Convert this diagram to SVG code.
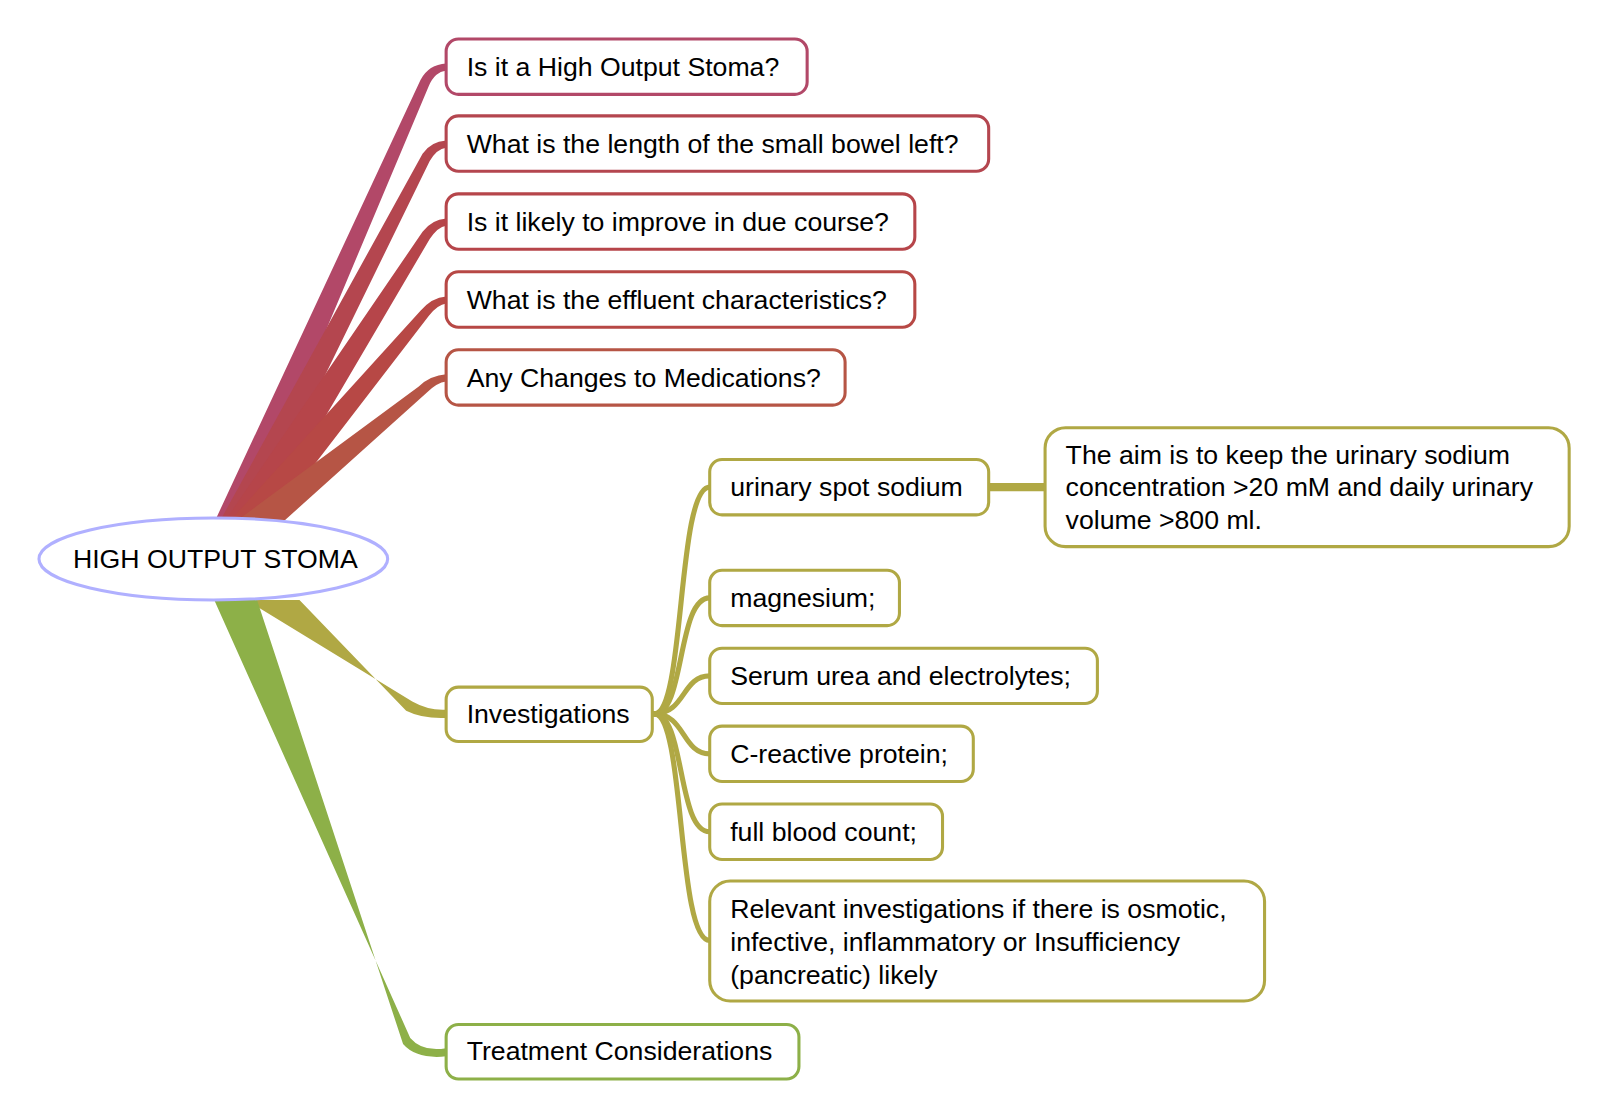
<svg xmlns="http://www.w3.org/2000/svg" width="1600" height="1112" viewBox="0 0 1600 1112">
<style>
text{font-family:"Liberation Sans",Arial,sans-serif;font-size:26px;fill:#000}
.b{fill:#fff;stroke-width:3}
.inv{fill:none;stroke:#b0a844;stroke-width:5;stroke-linecap:round}
</style>
<rect width="1600" height="1112" fill="#fff"/>
<g transform="scale(1.0256)">
<g id="connectors">
<path d="M210,507 L410,78 Q418,63 435,62 L435,69 Q424,70 418,84 L240,507 Z" fill="#b24868"/>
<path d="M215,507 L412,150 Q420,138 435,137 L435,144 Q426,145 419,157 L248,507 Z" fill="#b4464f"/>
<path d="M220,507 L412,226 Q421,214 435,213 L435,220 Q427,221 419,233 L258,507 Z" fill="#b6454a"/>
<path d="M225,507 L410,303 Q421,290 435,289 L435,296 Q427,297 418,308 L265,507 Z" fill="#b74845"/>
<path d="M232,507 L408,377 Q420,366 435,365 L435,372 Q426,373 416,383 L278,507 Z" fill="#b65545"/>
<path d="M240,585 L402,684 Q418,693 435,692 L435,700 Q412,701 396,693 L292,585 Z" fill="#b0a844"/>
<path d="M208,583 L400,1012 Q412,1026 435,1022 L435,1030 Q406,1033 393,1018 L250,583 Z" fill="#8db048"/>
<path class="inv" d="M638,696 C668,696 660,475 692,475"/>
<path class="inv" d="M638,696 C668,696 660,583 692,583"/>
<path class="inv" d="M638,696 C668,696 665,659 692,659"/>
<path class="inv" d="M638,696 C668,696 665,735 692,735"/>
<path class="inv" d="M638,696 C668,696 660,811 692,811"/>
<path class="inv" d="M638,696 C668,696 660,917 692,917"/>
<path d="M964,475 L1019,475" stroke="#b0a844" stroke-width="8"/>
</g>
<g id="root"><ellipse cx="208" cy="545" rx="170" ry="40" fill="#fff" stroke="#b0b0ff" stroke-width="3"/><text x="210" y="554" text-anchor="middle">HIGH OUTPUT STOMA</text></g>
<g id="q1"><rect class="b" x="435" y="38" width="352" height="54" rx="12" stroke="#b24868"/><text x="455" y="74">Is it a High Output Stoma?</text></g>
<g id="q2"><rect class="b" x="435" y="113" width="529" height="54" rx="12" stroke="#b4464f"/><text x="455" y="149">What is the length of the small bowel left?</text></g>
<g id="q3"><rect class="b" x="435" y="189" width="457" height="54" rx="12" stroke="#b6454a"/><text x="455" y="225">Is it likely to improve in due course?</text></g>
<g id="q4"><rect class="b" x="435" y="265" width="457" height="54" rx="12" stroke="#b74845"/><text x="455" y="301">What is the effluent characteristics?</text></g>
<g id="q5"><rect class="b" x="435" y="341" width="389" height="54" rx="12" stroke="#b65545"/><text x="455" y="377">Any Changes to Medications?</text></g>
<g id="inv"><rect class="b" x="435" y="670" width="201" height="53" rx="12" stroke="#b0a844"/><text x="455" y="705">Investigations</text></g>
<g id="treat"><rect class="b" x="435" y="999" width="344" height="53" rx="12" stroke="#8db048"/><text x="455" y="1034">Treatment Considerations</text></g>
<g id="c1"><rect class="b" x="692" y="448" width="272" height="54" rx="12" stroke="#b0a844"/><text x="712" y="484">urinary spot sodium</text></g>
<g id="aim"><rect class="b" x="1019" y="417" width="511" height="116" rx="20" stroke="#b0a844"/><text x="1039" y="452">The aim is to keep the urinary sodium</text><text x="1039" y="484">concentration &gt;20 mM and daily urinary</text><text x="1039" y="516">volume &gt;800 ml.</text></g>
<g id="c2"><rect class="b" x="692" y="556" width="185" height="54" rx="12" stroke="#b0a844"/><text x="712" y="592">magnesium;</text></g>
<g id="c3"><rect class="b" x="692" y="632" width="378" height="54" rx="12" stroke="#b0a844"/><text x="712" y="668">Serum urea and electrolytes;</text></g>
<g id="c4"><rect class="b" x="692" y="708" width="257" height="54" rx="12" stroke="#b0a844"/><text x="712" y="744">C-reactive protein;</text></g>
<g id="c5"><rect class="b" x="692" y="784" width="227" height="54" rx="12" stroke="#b0a844"/><text x="712" y="820">full blood count;</text></g>
<g id="c6"><rect class="b" x="692" y="859" width="541" height="117" rx="20" stroke="#b0a844"/><text x="712" y="895">Relevant investigations if there is osmotic,</text><text x="712" y="927">infective, inflammatory or Insufficiency</text><text x="712" y="959">(pancreatic) likely</text></g>
</g>
</svg>
